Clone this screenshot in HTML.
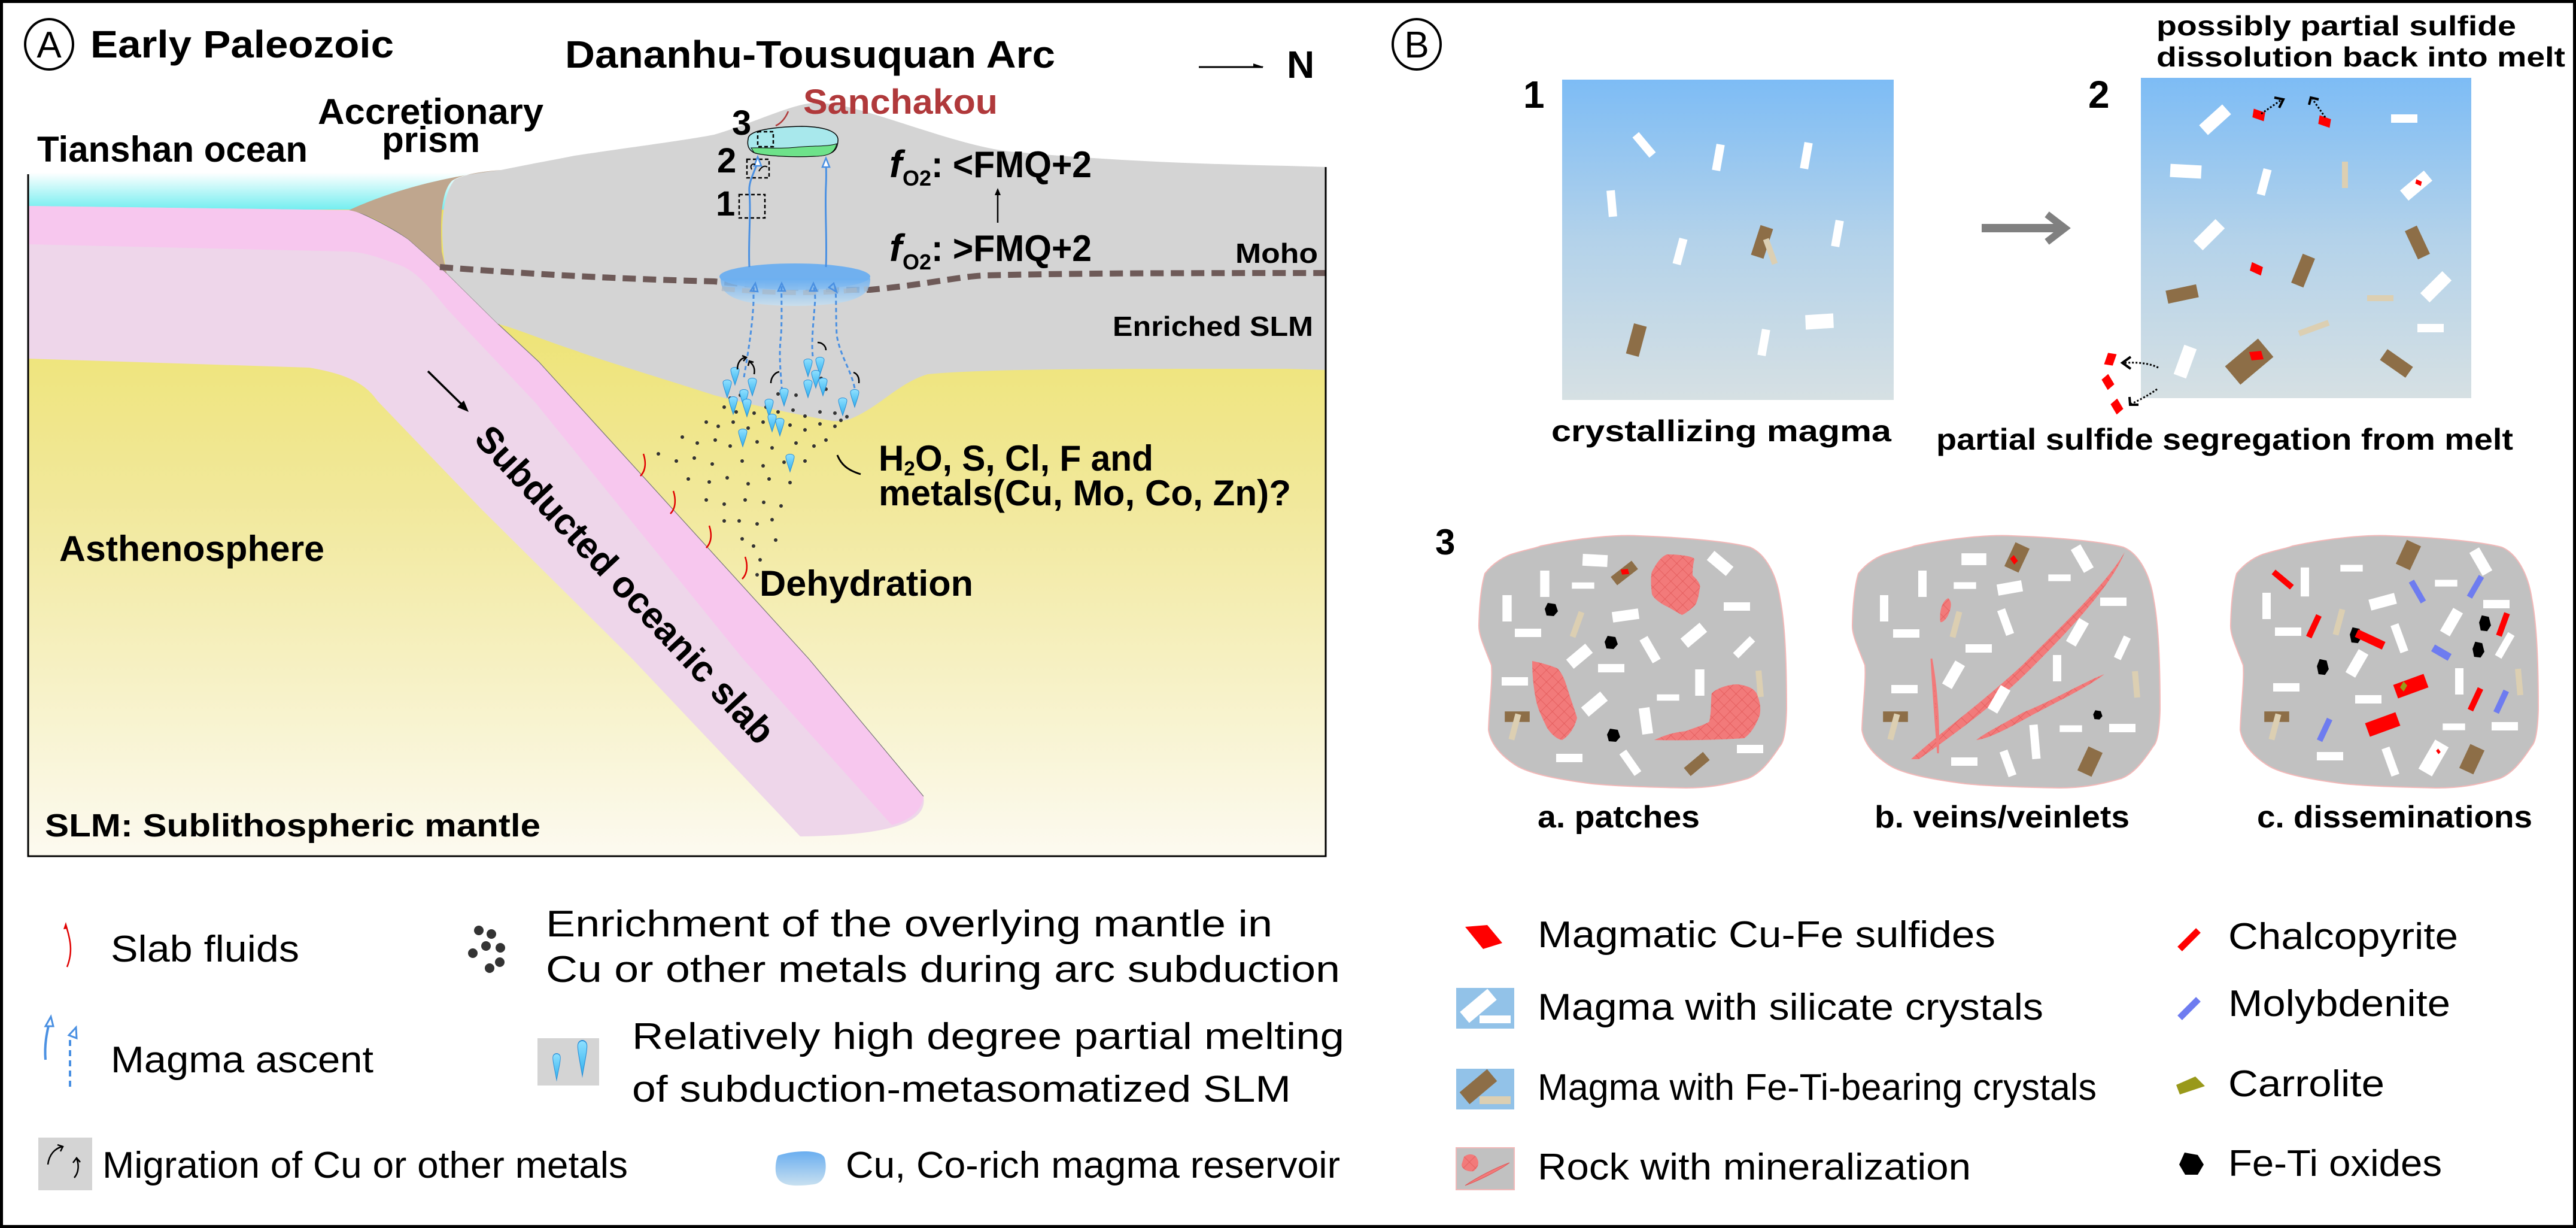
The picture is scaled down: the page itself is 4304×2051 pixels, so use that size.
<!DOCTYPE html>
<html><head><meta charset="utf-8"><style>
html,body{margin:0;padding:0;background:#fff;}
svg{display:block;}
text{font-family:"Liberation Sans",Arial,sans-serif;}
.b{font-weight:bold;}
</style></head><body>
<svg width="4304" height="2051" viewBox="0 0 4304 2051" xmlns="http://www.w3.org/2000/svg">
<defs>
<linearGradient id="ocean" x1="0" y1="0" x2="0" y2="1"><stop offset="0" stop-color="#ffffff"/><stop offset="1" stop-color="#74eef0"/></linearGradient>
<linearGradient id="asth" x1="0" y1="0" x2="0" y2="1"><stop offset="0" stop-color="#ece15e"/><stop offset="0.45" stop-color="#f1e89a"/><stop offset="1" stop-color="#fcfaf0"/></linearGradient>
<linearGradient id="bluebox" x1="0" y1="0" x2="0" y2="1"><stop offset="0" stop-color="#7dbcf5"/><stop offset="0.5" stop-color="#b3d2ea"/><stop offset="1" stop-color="#d6e0e3"/></linearGradient>
<linearGradient id="res" x1="0" y1="0" x2="0" y2="1"><stop offset="0" stop-color="#6aaef0"/><stop offset="1" stop-color="#c8e0f0"/></linearGradient>
<linearGradient id="drop" x1="0" y1="0" x2="0" y2="1"><stop offset="0" stop-color="#8fe0ff"/><stop offset="1" stop-color="#2fb0ee"/></linearGradient>
<pattern id="hatch" width="14" height="14" patternUnits="userSpaceOnUse" patternTransform="rotate(45)">
<rect width="14" height="14" fill="#f27a7a"/><path d="M0 0H14M0 0V14" stroke="#e15858" stroke-width="1.5"/></pattern>
<rect id="wv" x="-7" y="-22" width="14" height="44" fill="#fff"/>
<rect id="wh" x="-22" y="-7" width="44" height="14" fill="#fff"/>
<rect id="wb" x="-26" y="-11" width="52" height="22" fill="#fff"/>
<rect id="br" x="-26" y="-11" width="52" height="22" fill="#8d6e47"/>
<rect id="bg" x="-5" y="-22" width="10" height="44" fill="#dccfb2"/>
<polygon id="ox" points="-6,-11 7,-9 11,3 4,11 -8,10 -11,-1" fill="#000"/>
<polygon id="rd" points="-12,-6 8,-8 12,6 -8,8" fill="#ff0000"/>
<rect id="cp" x="-5" y="-20" width="10" height="40" fill="#ff0000"/>
<rect id="mo" x="-5" y="-20" width="10" height="40" fill="#6e7cf0"/>
<path id="dr" d="M0,16 C-3,6 -7,-4 -7,-9 C-7,-15 7,-15 7,-9 C7,-4 3,6 0,16Z" fill="url(#drop)" stroke="#2a8fd8" stroke-width="1"/>
<path id="rock" d="M2574,912 C2640,898 2700,893 2739,895 C2820,898 2890,905 2924,914 C2950,925 2968,960 2974,999 C2982,1040 2985,1100 2985,1185 C2984,1220 2980,1240 2974,1246 C2955,1275 2940,1292 2921,1300 C2880,1312 2850,1316 2817,1316 C2760,1315 2700,1313 2660,1309 C2590,1300 2550,1290 2531,1277 C2505,1260 2490,1240 2487,1219 C2488,1180 2494,1140 2492,1111 C2480,1080 2470,1060 2471,1043 C2472,1000 2476,975 2481,958 C2495,940 2515,928 2531,924 C2550,918 2565,916 2574,912Z" fill="#c1c1c1" stroke="#f2b8b8" stroke-width="2"/>
<clipPath id="clipA"><rect x="47" y="150" width="2168" height="1280"/></clipPath>
</defs>

<rect x="0" y="0" width="4304" height="2051" fill="#fff"/>

<!-- ===== PANEL A ===== -->
<g clip-path="url(#clipA)">
<rect x="47" y="340" width="2170" height="1090" fill="url(#asth)"/>
<rect x="47" y="288" width="800" height="62" fill="url(#ocean)"/>
<path d="M47,344 L590,351 C640,370 683,400 683,400 L746,456 L832,541 L900,604 L1351,1100 L1543,1330 C1550,1370 1500,1395 1337,1397 L1056,1100 L804,850 L631,670 C610,640 580,625 517,614 L47,599 Z" fill="#eed6ea"/>
<path d="M47,344 L590,351 C640,370 683,400 683,400 L746,456 L832,541 L900,604 L1351,1100 L1543,1330 C1540,1355 1520,1370 1490,1378 L1420,1300 L1241,1100 L895,673 L746,515 C710,470 690,449 660,440 C620,425 600,420 574,420 L47,408 Z" fill="#f7c7ee"/>
<path d="M590,351 C640,370 683,400 683,400 L746,456 L832,541 L900,604 L1351,1100 L1543,1330" fill="none" stroke="#777" stroke-width="1.2"/>
<path d="M746,456 C735,400 735,330 760,300 C780,290 810,286 837,284 C880,275 920,268 960,260 C1060,245 1140,235 1193,225 C1260,205 1320,175 1358,172 C1400,172 1430,182 1454,189 C1540,215 1620,245 1687,253 C1850,268 2000,274 2151,277 L2220,279 L2220,618 L2151,616 C1900,616 1650,615 1550,625 C1500,640 1470,680 1420,700 C1400,706 1385,702 1385,702 C1320,690 1250,675 1193,660 C1100,630 1000,600 960,585 C900,565 860,548 832,541 Z" fill="#d4d4d4"/>
<path d="M583,351 C650,320 740,295 837,284 C800,287 770,292 755,302 C738,320 735,360 738,420 L746,456 L683,400 C640,370 610,356 583,351 Z" fill="#bfa68e"/>
<path d="M735,446 C850,455 1000,465 1193,470 C1300,480 1400,485 1454,484 C1550,475 1600,462 1646,460 C1800,456 2000,456 2220,456" fill="none" stroke="#6e5a58" stroke-width="10" stroke-dasharray="22,12"/>
<ellipse cx="1328" cy="462" rx="126" ry="22" fill="#6aaef0" opacity="0.95"/>
<path d="M1204,465 C1204,490 1220,510 1328,511 C1440,510 1454,490 1454,465 Z" fill="url(#res)" opacity="0.85"/>
<path d="M1206,482 C1280,490 1380,492 1450,482" stroke="#a8b8c8" stroke-width="8" stroke-dasharray="22,12" fill="none" opacity="0.7"/>
<path d="M1250,232 C1250,218 1290,212 1340,211 C1385,212 1402,222 1400,236 C1399,252 1390,260 1360,261 C1320,263 1275,260 1260,255 C1250,250 1248,242 1250,232Z" fill="#a8e8ec" stroke="#000" stroke-width="1.5"/>
<path d="M1255,247 C1280,246 1300,249 1330,246 C1360,243 1385,245 1398,240 C1395,255 1385,261 1360,261 C1320,263 1275,260 1260,255Z" fill="#6ee28a" stroke="#000" stroke-width="1"/>
<rect x="1266" y="220" width="26" height="25" fill="none" stroke="#000" stroke-width="2.5" stroke-dasharray="6,4"/>
<rect x="1248" y="266" width="37" height="31" fill="none" stroke="#000" stroke-width="2.5" stroke-dasharray="6,4"/>
<rect x="1235" y="325" width="43" height="39" fill="none" stroke="#000" stroke-width="2.5" stroke-dasharray="6,4"/>
<path d="M1252,446 C1250,400 1255,360 1252,320 C1250,300 1266,280 1266,265" fill="none" stroke="#4a90e2" stroke-width="3"/>
<path d="M1380,446 C1382,400 1378,350 1380,310 C1381,290 1380,275 1380,268" fill="none" stroke="#4a90e2" stroke-width="3"/>
<polygon points="1266,262 1260,277 1272,277" fill="#fff" stroke="#4a90e2" stroke-width="2.5"/>
<polygon points="1380,264 1374,279 1386,279" fill="#fff" stroke="#4a90e2" stroke-width="2.5"/>
<path d="M1256,283 C1252,276 1258,272 1262,275 M1268,286 C1272,278 1278,276 1282,279" fill="none" stroke="#000" stroke-width="2"/>
<path d="M1317,186 C1312,198 1305,206 1296,210" fill="none" stroke="#b03a3a" stroke-width="2.5"/>
<g fill="none" stroke="#4a90e2" stroke-width="3" stroke-dasharray="7,5">
<path d="M1243,630 C1248,600 1255,560 1258,520 C1260,500 1258,485 1260,478"/>
<path d="M1307,665 C1306,630 1300,600 1305,560 C1307,520 1305,495 1306,478"/>
<path d="M1358,595 C1355,570 1360,530 1362,500 C1362,490 1360,482 1360,478"/>
<path d="M1430,660 C1425,620 1405,600 1398,560 C1396,520 1398,495 1395,478"/>
</g>
<g fill="none" stroke="#4a90e2" stroke-width="2.5">
<polygon points="1262,473 1254,486 1266,487"/><polygon points="1306,473 1300,486 1312,486"/><polygon points="1359,473 1353,486 1365,486"/><polygon points="1393,473 1385,480 1398,488"/>
</g>
<g fill="#333">
<circle cx="1210" cy="680" r="3"/><circle cx="1230" cy="688" r="3"/><circle cx="1260" cy="690" r="3"/><circle cx="1280" cy="680" r="3"/><circle cx="1300" cy="688" r="3"/><circle cx="1325" cy="685" r="3"/><circle cx="1345" cy="695" r="3"/><circle cx="1370" cy="688" r="3"/><circle cx="1395" cy="690" r="3"/><circle cx="1415" cy="696" r="3"/><circle cx="1372" cy="632" r="3"/><circle cx="1380" cy="650" r="3"/><circle cx="1330" cy="660" r="3"/><circle cx="1300" cy="658" r="3"/><circle cx="1237" cy="660" r="3"/><circle cx="1220" cy="665" r="3"/>
<circle cx="1180" cy="705" r="3"/><circle cx="1200" cy="712" r="3"/><circle cx="1225" cy="705" r="3"/><circle cx="1250" cy="715" r="3"/><circle cx="1275" cy="705" r="3"/><circle cx="1320" cy="710" r="3"/><circle cx="1345" cy="718" r="3"/><circle cx="1370" cy="708" r="3"/><circle cx="1395" cy="712" r="3"/><circle cx="1405" cy="702" r="3"/>
<circle cx="1140" cy="730" r="3"/><circle cx="1165" cy="740" r="3"/><circle cx="1195" cy="735" r="3"/><circle cx="1220" cy="745" r="3"/><circle cx="1265" cy="738" r="3"/><circle cx="1290" cy="748" r="3"/><circle cx="1330" cy="740" r="3"/><circle cx="1360" cy="745" r="3"/><circle cx="1380" cy="735" r="3"/>
<circle cx="1100" cy="758" r="3"/><circle cx="1130" cy="770" r="3"/><circle cx="1160" cy="765" r="3"/><circle cx="1190" cy="775" r="3"/><circle cx="1240" cy="770" r="3"/><circle cx="1275" cy="778" r="3"/><circle cx="1310" cy="772" r="3"/><circle cx="1345" cy="770" r="3"/>
<circle cx="1150" cy="800" r="3"/><circle cx="1185" cy="805" r="3"/><circle cx="1215" cy="798" r="3"/><circle cx="1250" cy="808" r="3"/><circle cx="1285" cy="800" r="3"/><circle cx="1320" cy="806" r="3"/>
<circle cx="1180" cy="835" r="3"/><circle cx="1210" cy="842" r="3"/><circle cx="1245" cy="835" r="3"/><circle cx="1276" cy="839" r="3"/><circle cx="1305" cy="845" r="3"/>
<circle cx="1210" cy="870" r="3"/><circle cx="1235" cy="870" r="3"/><circle cx="1265" cy="875" r="3"/><circle cx="1290" cy="868" r="3"/>
<circle cx="1240" cy="900" r="3"/><circle cx="1259" cy="912" r="3"/><circle cx="1296" cy="902" r="3"/><circle cx="1270" cy="935" r="3"/><circle cx="1265" cy="960" r="3"/>
</g>
<use href="#dr" transform="translate(1228,627)"/><use href="#dr" transform="translate(1215,648)"/><use href="#dr" transform="translate(1243,664)"/><use href="#dr" transform="translate(1257,645)"/><use href="#dr" transform="translate(1225,676)"/><use href="#dr" transform="translate(1285,680)"/><use href="#dr" transform="translate(1310,662)"/><use href="#dr" transform="translate(1350,613)"/><use href="#dr" transform="translate(1370,610)"/><use href="#dr" transform="translate(1363,632)"/><use href="#dr" transform="translate(1350,648)"/><use href="#dr" transform="translate(1375,645)"/><use href="#dr" transform="translate(1428,664)"/><use href="#dr" transform="translate(1408,678)"/><use href="#dr" transform="translate(1241,730)"/><use href="#dr" transform="translate(1290,705)"/><use href="#dr" transform="translate(1303,712)"/><use href="#dr" transform="translate(1320,772)"/><use href="#dr" transform="translate(1248,680)"/>
<g fill="none" stroke="#000" stroke-width="2.5">
<path d="M1232,617 C1232,605 1238,598 1246,597 M1240,594 L1247,597 L1242,603"/>
<path d="M1260,625 C1262,615 1258,608 1252,604 M1250,611 L1252,603 L1259,605"/>
<path d="M1288,640 C1288,630 1295,622 1302,621"/>
<path d="M1380,585 C1380,578 1374,572 1366,572"/>
<path d="M1435,640 C1436,630 1432,624 1426,622"/>
</g>
<g fill="none" stroke="#e00000" stroke-width="2.5">
<path d="M1075,758 C1079,770 1080,785 1070,795"/><path d="M1125,820 C1129,832 1130,848 1120,858"/><path d="M1185,878 C1189,890 1190,905 1180,915"/><path d="M1245,930 C1249,942 1250,957 1240,967"/>
</g>
<path d="M1399,760 C1405,775 1415,785 1438,792" fill="none" stroke="#000" stroke-width="3"/>
<line x1="715" y1="620" x2="776" y2="680" stroke="#000" stroke-width="3.5"/>
<polygon points="783,688 764,680 775,669" fill="#000"/>
<line x1="1667" y1="372" x2="1667" y2="322" stroke="#000" stroke-width="2.5"/>
<polygon points="1667,314 1662,326 1672,326" fill="#000"/>
</g>

<path d="M47,291 V1430 H2215 V279" fill="none" stroke="#000" stroke-width="3"/>

<ellipse cx="82" cy="74" rx="40" ry="42" fill="none" stroke="#000" stroke-width="4"/>
<text x="82" y="96" font-size="62" text-anchor="middle">A</text>
<text class="b" x="151" y="96" font-size="64" textLength="507" lengthAdjust="spacingAndGlyphs">Early Paleozoic</text>
<text class="b" x="944" y="113" font-size="64" textLength="819" lengthAdjust="spacingAndGlyphs">Dananhu-Tousuquan Arc</text>
<line x1="2003" y1="112" x2="2110" y2="112" stroke="#000" stroke-width="3"/>
<polygon points="2112,112 2094,106 2094,112" fill="#000"/>
<text class="b" x="2150" y="130" font-size="64">N</text>
<text class="b" x="1342" y="190" font-size="58" fill="#b0393b" textLength="325" lengthAdjust="spacingAndGlyphs">Sanchakou</text>
<text class="b" x="531" y="207" font-size="60" textLength="377" lengthAdjust="spacingAndGlyphs">Accretionary</text>
<text class="b" x="638" y="254" font-size="60" textLength="164" lengthAdjust="spacingAndGlyphs">prism</text>
<text class="b" x="62" y="270" font-size="60" textLength="452" lengthAdjust="spacingAndGlyphs">Tianshan ocean</text>
<text class="b" x="1223" y="225" font-size="58">3</text>
<text class="b" x="1198" y="288" font-size="58">2</text>
<text class="b" x="1196" y="360" font-size="58">1</text>
<text class="b" x="1486" y="296" font-size="64" font-style="italic">f</text>
<text class="b" x="1508" y="310" font-size="36">O2</text>
<text class="b" x="1556" y="296" font-size="62" textLength="268" lengthAdjust="spacingAndGlyphs">: &lt;FMQ+2</text>
<text class="b" x="1486" y="436" font-size="64" font-style="italic">f</text>
<text class="b" x="1508" y="450" font-size="36">O2</text>
<text class="b" x="1556" y="436" font-size="62" textLength="268" lengthAdjust="spacingAndGlyphs">: &gt;FMQ+2</text>
<text class="b" x="2064" y="439" font-size="46" textLength="138" lengthAdjust="spacingAndGlyphs">Moho</text>
<text class="b" x="1859" y="561" font-size="46" textLength="335" lengthAdjust="spacingAndGlyphs">Enriched SLM</text>
<text class="b" x="1468" y="786" font-size="60" textLength="459" lengthAdjust="spacingAndGlyphs">H<tspan font-size="34" dy="8">2</tspan><tspan dy="-8">O, S, Cl, F and</tspan></text>
<text class="b" x="1468" y="844" font-size="60" textLength="689" lengthAdjust="spacingAndGlyphs">metals(Cu, Mo, Co, Zn)?</text>
<text class="b" x="1269" y="995" font-size="60" textLength="357" lengthAdjust="spacingAndGlyphs">Dehydration</text>
<text class="b" x="99" y="937" font-size="60" textLength="443" lengthAdjust="spacingAndGlyphs">Asthenosphere</text>
<text class="b" x="75" y="1397" font-size="54" textLength="828" lengthAdjust="spacingAndGlyphs">SLM: Sublithospheric mantle</text>
<text class="b" font-size="62" transform="translate(790,735) rotate(47)" textLength="700" lengthAdjust="spacingAndGlyphs">Subducted oceanic slab</text>

<path d="M110,1545 C118,1570 122,1590 112,1615" fill="none" stroke="#e00000" stroke-width="2.5"/>
<polygon points="110,1540 106,1552 113,1551" fill="#e00000"/>
<text x="185" y="1606" font-size="62" textLength="315" lengthAdjust="spacingAndGlyphs">Slab fluids</text>
<g fill="#333"><circle cx="800" cy="1554" r="8"/><circle cx="821" cy="1560" r="8"/><circle cx="836" cy="1583" r="8"/><circle cx="812" cy="1580" r="8"/><circle cx="790" cy="1592" r="8"/><circle cx="835" cy="1607" r="8"/><circle cx="818" cy="1617" r="8"/></g>
<text x="912" y="1564" font-size="62" textLength="1214" lengthAdjust="spacingAndGlyphs">Enrichment of the overlying mantle in</text>
<text x="912" y="1640" font-size="62" textLength="1327" lengthAdjust="spacingAndGlyphs">Cu or other metals during arc subduction</text>
<path d="M76,1770 C74,1745 78,1725 83,1705" fill="none" stroke="#4a90e2" stroke-width="4"/>
<polygon points="85,1698 76,1714 89,1714" fill="#fff" stroke="#4a90e2" stroke-width="3"/>
<path d="M117,1815 L117,1730" fill="none" stroke="#4a90e2" stroke-width="4" stroke-dasharray="10,7"/>
<polygon points="127,1716 115,1729 128,1734" fill="#fff" stroke="#4a90e2" stroke-width="3"/>
<text x="185" y="1791" font-size="62" textLength="439" lengthAdjust="spacingAndGlyphs">Magma ascent</text>
<rect x="898" y="1734" width="103" height="79" fill="#d4d4d4"/>
<use href="#dr" transform="translate(930,1780) scale(0.9,1.5)"/><use href="#dr" transform="translate(973,1765) scale(1.1,2)"/>
<text x="1056" y="1752" font-size="62" textLength="1190" lengthAdjust="spacingAndGlyphs">Relatively high degree partial melting</text>
<text x="1056" y="1840" font-size="62" textLength="1101" lengthAdjust="spacingAndGlyphs">of subduction-metasomatized SLM</text>
<rect x="64" y="1900" width="90" height="88" fill="#d4d4d4"/>
<path d="M80,1945 C82,1928 92,1918 104,1915 M96,1912 L105,1915 L101,1923" fill="none" stroke="#000" stroke-width="2.5"/>
<path d="M124,1967 C132,1958 132,1945 128,1935 M122,1942 L128,1934 L134,1941" fill="none" stroke="#000" stroke-width="2.5"/>
<text x="171" y="1967" font-size="62" textLength="878" lengthAdjust="spacingAndGlyphs">Migration of Cu or other metals</text>
<path d="M1300,1930 C1330,1920 1375,1920 1378,1935 C1382,1950 1380,1975 1360,1978 C1330,1982 1305,1982 1298,1965 C1294,1955 1296,1938 1300,1930Z" fill="url(#res)"/>
<text x="1413" y="1967" font-size="62" textLength="826" lengthAdjust="spacingAndGlyphs">Cu, Co-rich magma reservoir</text>

<!-- ===== PANEL B ===== -->
<ellipse cx="2367" cy="74" rx="40" ry="42" fill="none" stroke="#000" stroke-width="4"/>
<text x="2367" y="96" font-size="62" text-anchor="middle">B</text>
<text class="b" x="2545" y="180" font-size="64">1</text>
<text class="b" x="3489" y="180" font-size="64">2</text>
<text class="b" x="3603" y="59" font-size="46" textLength="601" lengthAdjust="spacingAndGlyphs">possibly partial sulfide</text>
<text class="b" x="3603" y="111" font-size="46" textLength="683" lengthAdjust="spacingAndGlyphs">dissolution back into melt</text>

<rect x="2610" y="133" width="554" height="535" fill="url(#bluebox)"/>
<use href="#wv" transform="translate(2747,242) rotate(-40)"/>
<use href="#wv" transform="translate(2871,263) rotate(10)"/>
<use href="#wv" transform="translate(3018,260) rotate(10)"/>
<use href="#wv" transform="translate(2693,340) rotate(-5)"/>
<use href="#wv" transform="translate(2807,420) rotate(15)"/>
<use href="#wv" transform="translate(3070,390) rotate(10)"/>
<use href="#wb" transform="translate(3040,537) scale(0.9,1.1) rotate(-3)"/>
<use href="#wv" transform="translate(2947,572) rotate(10)"/>
<use href="#br" transform="translate(2944,404) rotate(-72)"/>
<use href="#bg" transform="translate(2958,420) rotate(-20)"/>
<use href="#br" transform="translate(2734,568) rotate(-75)"/>

<line x1="3311" y1="381" x2="3440" y2="381" stroke="#808080" stroke-width="14"/>
<path d="M3420,358 L3450,381 L3420,404" fill="none" stroke="#808080" stroke-width="12"/>

<rect x="3577" y="130" width="552" height="535" fill="url(#bluebox)"/>
<use href="#wb" transform="translate(3701,200) rotate(-42)"/>
<use href="#rd" transform="translate(3774,192) rotate(25)"/>
<use href="#rd" transform="translate(3884,203) rotate(25)"/>
<use href="#wh" transform="translate(4017,198)"/>
<use href="#wb" transform="translate(3652,286) rotate(3)"/>
<use href="#wv" transform="translate(3783,304) rotate(15)"/>
<use href="#bg" transform="translate(3918,292)"/>
<use href="#wb" transform="translate(4037,310) rotate(-40)"/>
<use href="#rd" transform="translate(4041,305) scale(0.5) rotate(30)"/>
<use href="#wb" transform="translate(3691,392) rotate(-45)"/>
<use href="#br" transform="translate(4039,405) rotate(65)"/>
<use href="#rd" transform="translate(3770,449) rotate(30)"/>
<use href="#br" transform="translate(3848,452) rotate(-68)"/>
<use href="#br" transform="translate(3646,491) rotate(-12)"/>
<use href="#wb" transform="translate(4070,479) rotate(-45)"/>
<use href="#bg" transform="translate(3977,498) rotate(90)"/>
<use href="#bg" transform="translate(3866,548) rotate(70) scale(1,1.2)"/>
<use href="#wh" transform="translate(4061,548)"/>
<use href="#wb" transform="translate(3651,604) rotate(-70)"/>
<rect x="-36" y="-20" width="72" height="40" fill="#8d6e47" transform="translate(3758,604) rotate(-40)"/>
<use href="#rd" transform="translate(3770,594)"/>
<use href="#br" transform="translate(4004,607) rotate(35)"/>
<use href="#rd" transform="translate(3526,600) rotate(-65)"/>
<use href="#rd" transform="translate(3522,638) rotate(65)"/>
<use href="#rd" transform="translate(3537,679) rotate(65)"/>
<g fill="none" stroke="#000" stroke-width="3" stroke-dasharray="3,3">
<path d="M3778,190 L3810,168"/><path d="M3885,196 L3864,166"/><path d="M3606,614 C3590,606 3570,605 3550,606"/><path d="M3604,650 C3590,660 3575,668 3560,675"/>
</g>
<g fill="none" stroke="#000" stroke-width="4">
<path d="M3800,163 L3815,166 L3808,180"/><path d="M3858,175 L3861,163 L3874,166"/><path d="M3560,596 L3546,606 L3560,616"/><path d="M3558,663 L3559,676 L3573,676"/>
</g>
<text class="b" x="2592" y="737" font-size="50" textLength="568" lengthAdjust="spacingAndGlyphs">crystallizing magma</text>
<text class="b" x="3235" y="751" font-size="50" textLength="964" lengthAdjust="spacingAndGlyphs">partial sulfide segregation from melt</text>
<text class="b" x="2398" y="926" font-size="60">3</text>

<use href="#rock"/>
<path d="M2785,926 C2810,926 2831,930 2831,934 C2828,945 2828,955 2828,961 C2838,970 2842,978 2840,982 C2838,998 2835,1008 2831,1012 C2820,1022 2812,1027 2810,1027 C2800,1022 2790,1015 2783,1012 C2770,1005 2762,998 2760,992 C2758,975 2758,962 2760,955 C2768,940 2775,930 2785,926Z" fill="url(#hatch)"/>
<path d="M2560,1104 C2580,1108 2598,1114 2603,1117 C2612,1128 2615,1138 2617,1144 C2625,1170 2632,1188 2635,1199 C2630,1218 2620,1230 2610,1236 C2600,1234 2592,1226 2585,1216 C2575,1195 2570,1185 2567,1172 C2562,1150 2560,1125 2560,1104Z" fill="url(#hatch)"/>
<path d="M2764,1236 C2785,1226 2800,1223 2817,1221 C2835,1214 2850,1210 2856,1205 C2860,1185 2858,1170 2860,1158 C2870,1148 2890,1143 2903,1143 C2920,1145 2930,1150 2935,1158 C2942,1175 2942,1185 2940,1195 C2932,1215 2925,1225 2914,1233 C2870,1236 2810,1237 2764,1236Z" fill="url(#hatch)"/>
<use href="#wb" transform="translate(2665,936) rotate(3) scale(0.8,0.9)"/>
<use href="#wv" transform="translate(2581,975) scale(1.1,1)"/>
<use href="#wh" transform="translate(2645,978) scale(0.85,0.75)"/>
<use href="#wv" transform="translate(2518,1016) scale(1.1,1)"/>
<use href="#wh" transform="translate(2553,1057)"/>
<use href="#wb" transform="translate(2716,1028) rotate(-8) scale(0.85,0.8)"/>
<use href="#wb" transform="translate(2874,941) rotate(40) scale(0.8,0.9)"/>
<use href="#wh" transform="translate(2902,1013)"/>
<use href="#wb" transform="translate(2830,1061) rotate(-40) scale(0.8,0.9)"/>
<use href="#wh" transform="translate(2914,1081) rotate(-45) scale(0.9,0.9)"/>
<use href="#wb" transform="translate(2639,1096) rotate(-40) scale(0.8,0.9)"/>
<use href="#wv" transform="translate(2757,1085) rotate(-30) scale(1.1,1)"/>
<use href="#wh" transform="translate(2692,1116)"/>
<use href="#wh" transform="translate(2531,1138)"/>
<use href="#wv" transform="translate(2840,1140) scale(1.1,1)"/>
<use href="#wh" transform="translate(2787,1165) scale(0.85,0.75)"/>
<use href="#wb" transform="translate(2664,1176) rotate(-40) scale(0.8,0.9)"/>
<use href="#wv" transform="translate(2750,1204) rotate(-8) scale(1.3,1)"/>
<use href="#wh" transform="translate(2622,1266)"/>
<use href="#wv" transform="translate(2724,1274) rotate(-35)"/>
<use href="#wh" transform="translate(2924,1251)"/>
<use href="#br" transform="translate(2714,957) rotate(-38) scale(0.85,0.8)"/>
<use href="#rd" transform="translate(2715,955) scale(0.6)"/>
<use href="#br" transform="translate(2535,1197) scale(0.8,0.8)"/>
<use href="#bg" transform="translate(2531,1214) rotate(15)"/>
<use href="#br" transform="translate(2835,1276) rotate(-40) scale(0.8,0.8)"/>
<use href="#ox" transform="translate(2592,1018)"/><use href="#ox" transform="translate(2692,1073)"/><use href="#ox" transform="translate(2696,1228)"/>
<use href="#bg" transform="translate(2635,1043) rotate(20)"/>
<use href="#bg" transform="translate(2940,1142) rotate(-5)"/>

<use href="#rock" transform="translate(624,0)"/>
<path d="M3550,922 C3520,975 3440,1050 3380,1110 C3310,1175 3240,1225 3193,1268 L3206,1268 C3260,1230 3330,1180 3395,1115 C3460,1050 3530,975 3550,922Z" fill="url(#hatch)"/>
<path d="M3516,1126 C3480,1140 3430,1170 3380,1190 C3345,1210 3315,1225 3302,1236 C3320,1234 3345,1222 3385,1200 C3430,1175 3485,1150 3516,1126Z" fill="url(#hatch)"/>
<path d="M3227,1100 C3230,1150 3234,1210 3238,1258 C3240,1210 3236,1150 3227,1100Z" fill="url(#hatch)" stroke="#f27a7a" stroke-width="3"/>
<path d="M3255,999 C3262,1005 3260,1015 3256,1025 C3252,1035 3245,1040 3242,1039 C3240,1025 3243,1005 3255,999Z" fill="url(#hatch)"/>
<rect x="-13" y="-22" width="26" height="44" fill="#8d6e47" transform="translate(3370,931) rotate(25)"/>
<use href="#rd" transform="translate(3365,935) scale(0.6) rotate(60)"/>
<use href="#wb" transform="translate(3298,934) scale(0.8,0.9)"/>
<use href="#wv" transform="translate(3212,975)"/>
<use href="#wh" transform="translate(3283,978) scale(0.85,0.8)"/>
<use href="#wb" transform="translate(3358,982) rotate(-10) scale(0.8,0.85)"/>
<use href="#wh" transform="translate(3441,965) scale(0.85,0.8)"/>
<use href="#wb" transform="translate(3479,933) rotate(60) scale(0.85,0.85)"/>
<use href="#wv" transform="translate(3148,1016)"/>
<use href="#wh" transform="translate(3531,1005)"/>
<use href="#wv" transform="translate(3351,1039) rotate(-20)"/>
<use href="#wh" transform="translate(3185,1058)"/>
<use href="#wb" transform="translate(3471,1056) rotate(-60) scale(0.85,0.85)"/>
<use href="#wh" transform="translate(3306,1083)"/>
<use href="#wv" transform="translate(3546,1082) rotate(25) scale(0.9,0.9)"/>
<use href="#wv" transform="translate(3437,1116)"/>
<use href="#wb" transform="translate(3264,1127) rotate(-60) scale(0.85,0.85)"/>
<use href="#wh" transform="translate(3182,1151)"/>
<use href="#wb" transform="translate(3340,1168) rotate(-60) scale(0.85,0.85)"/>
<use href="#wh" transform="translate(3460,1217) scale(0.85,0.8)"/>
<use href="#wh" transform="translate(3546,1216)"/>
<use href="#wv" transform="translate(3400,1239) rotate(-5) scale(1,1.3)"/>
<use href="#wh" transform="translate(3282,1272)"/>
<use href="#wv" transform="translate(3355,1275) rotate(-20)"/>
<use href="#br" transform="translate(3167,1197) scale(0.8,0.8)"/>
<use href="#bg" transform="translate(3164,1214) rotate(15)"/>
<rect x="-13" y="-22" width="26" height="44" fill="#8d6e47" transform="translate(3492,1272) rotate(25)"/>
<use href="#ox" transform="translate(3505,1194) scale(0.7)"/>
<use href="#bg" transform="translate(3268,1043) rotate(15)"/>
<use href="#bg" transform="translate(3569,1143) rotate(-5)"/>

<use href="#rock" transform="translate(1256,0)"/>
<rect x="-13" y="-22" width="26" height="44" fill="#8d6e47" transform="translate(4024,927) rotate(25)"/>
<use href="#wb" transform="translate(4145,938) rotate(60) scale(0.85,0.85)"/>
<use href="#cp" transform="translate(3814,968) rotate(-50)"/>
<use href="#wv" transform="translate(3851,972) scale(1,1.1)"/>
<use href="#wh" transform="translate(3929,949) scale(0.85,0.8)"/>
<use href="#mo" transform="translate(4039,988) rotate(-30)"/>
<use href="#wh" transform="translate(4087,974) scale(0.85,0.8)"/>
<use href="#mo" transform="translate(4136,980) rotate(30)"/>
<use href="#wb" transform="translate(3981,1005) rotate(-15) scale(0.85,0.85)"/>
<use href="#wh" transform="translate(4171,1009)"/>
<use href="#wv" transform="translate(3787,1012)"/>
<use href="#cp" transform="translate(3866,1046) rotate(25)"/>
<use href="#bg" transform="translate(3908,1039) rotate(15)"/>
<use href="#wb" transform="translate(4096,1039) rotate(-60) scale(0.85,0.85)"/>
<use href="#ox" transform="translate(4152,1041) scale(0.9,1.2)"/>
<use href="#cp" transform="translate(4182,1043) rotate(20)"/>
<use href="#wh" transform="translate(3823,1055)"/>
<use href="#ox" transform="translate(3936,1061) scale(0.9,1.2)"/>
<rect x="-25" y="-7" width="50" height="14" fill="#ff0000" transform="translate(3960,1068) rotate(25)"/>
<use href="#wv" transform="translate(4009,1066) rotate(-20) scale(1,1.1)"/>
<use href="#mo" transform="translate(4079,1090) rotate(-60) scale(1.3,0.8)"/>
<use href="#ox" transform="translate(4141,1085) scale(0.9,1.2)"/>
<use href="#wv" transform="translate(4185,1078) rotate(30) scale(0.9,1)"/>
<use href="#ox" transform="translate(3881,1114) scale(0.9,1.2)"/>
<use href="#wb" transform="translate(3938,1108) rotate(-60) scale(0.85,0.85)"/>
<use href="#wv" transform="translate(4109,1138)"/>
<use href="#bg" transform="translate(4209,1139) rotate(-5)"/>
<use href="#wh" transform="translate(3820,1148)"/>
<rect x="-27" y="-12" width="54" height="24" fill="#ff0000" transform="translate(4028,1146) rotate(-20)"/>
<polygon points="4010,1148 4016,1138 4022,1145 4016,1155" fill="#99991a"/>
<use href="#cp" transform="translate(4136,1168) rotate(25)"/>
<use href="#mo" transform="translate(4179,1172) rotate(25)"/>
<use href="#wh" transform="translate(3957,1168)"/>
<use href="#br" transform="translate(3804,1197) scale(0.8,0.8)"/>
<use href="#bg" transform="translate(3801,1214) rotate(15)"/>
<use href="#mo" transform="translate(3884,1219) rotate(25)"/>
<rect x="-27" y="-12" width="54" height="24" fill="#ff0000" transform="translate(3981,1210) rotate(-20)"/>
<use href="#wh" transform="translate(4100,1214) scale(0.85,0.8)"/>
<use href="#wh" transform="translate(4185,1213)"/>
<use href="#wh" transform="translate(3893,1263)"/>
<use href="#wv" transform="translate(3994,1272) rotate(-20) scale(1,1.1)"/>
<rect x="-13" y="-28" width="26" height="56" fill="#fff" transform="translate(4066,1266) rotate(30)"/>
<use href="#rd" transform="translate(4074,1255) scale(0.35) rotate(60)"/>
<rect x="-13" y="-22" width="26" height="44" fill="#8d6e47" transform="translate(4130,1268) rotate(25)"/>

<text class="b" x="2569" y="1382" font-size="52" textLength="271" lengthAdjust="spacingAndGlyphs">a. patches</text>
<text class="b" x="3132" y="1382" font-size="52" textLength="426" lengthAdjust="spacingAndGlyphs">b. veins/veinlets</text>
<text class="b" x="3771" y="1382" font-size="52" textLength="460" lengthAdjust="spacingAndGlyphs">c. disseminations</text>

<polygon points="2448,1548 2485,1545 2510,1575 2478,1585" fill="#ff0000"/>
<text x="2569" y="1582" font-size="62" textLength="765" lengthAdjust="spacingAndGlyphs">Magmatic Cu-Fe  sulfides</text>
<rect x="2433" y="1650" width="97" height="68" fill="#92c2e8"/>
<rect x="-30" y="-12" width="60" height="24" fill="#fff" transform="translate(2470,1680) rotate(-40)"/>
<rect x="2472" y="1696" width="52" height="13" fill="#fff"/>
<text x="2569" y="1703" font-size="62" textLength="845" lengthAdjust="spacingAndGlyphs">Magma with silicate crystals</text>
<rect x="2433" y="1785" width="97" height="68" fill="#92c2e8"/>
<rect x="-30" y="-13" width="60" height="26" fill="#8d6e47" transform="translate(2470,1815) rotate(-40)"/>
<rect x="2472" y="1831" width="52" height="13" fill="#dccfb2"/>
<text x="2569" y="1837" font-size="62" textLength="934" lengthAdjust="spacingAndGlyphs">Magma with Fe-Ti-bearing crystals</text>
<rect x="2433" y="1917" width="97" height="70" fill="#c1c1c1" stroke="#f2b8b8" stroke-width="2"/>
<path d="M2446,1932 C2455,1925 2465,1928 2468,1935 C2472,1942 2470,1950 2462,1956 C2452,1958 2442,1952 2442,1945 Z" fill="url(#hatch)"/>
<path d="M2448,1980 C2470,1965 2500,1950 2522,1942 C2505,1955 2470,1972 2448,1980Z" fill="#f27a7a" stroke="#e15858" stroke-width="1"/>
<text x="2569" y="1970" font-size="62" textLength="724" lengthAdjust="spacingAndGlyphs">Rock with mineralization</text>

<line x1="3642" y1="1585" x2="3673" y2="1554" stroke="#ff0000" stroke-width="11"/>
<text x="3723" y="1585" font-size="62" textLength="384" lengthAdjust="spacingAndGlyphs">Chalcopyrite</text>
<line x1="3642" y1="1700" x2="3673" y2="1669" stroke="#6e7cf0" stroke-width="11"/>
<text x="3723" y="1697" font-size="62" textLength="371" lengthAdjust="spacingAndGlyphs">Molybdenite</text>
<polygon points="3636,1812 3668,1798 3684,1814 3642,1828" fill="#99991a"/>
<text x="3723" y="1831" font-size="62" textLength="261" lengthAdjust="spacingAndGlyphs">Carrolite</text>
<polygon points="3650,1925 3672,1929 3682,1945 3672,1962 3651,1962 3641,1945" fill="#000"/>
<text x="3723" y="1964" font-size="62" textLength="357" lengthAdjust="spacingAndGlyphs">Fe-Ti oxides</text>

<rect x="2.5" y="2.5" width="4299" height="2046" fill="none" stroke="#000" stroke-width="5"/>
</svg>
</body></html>
